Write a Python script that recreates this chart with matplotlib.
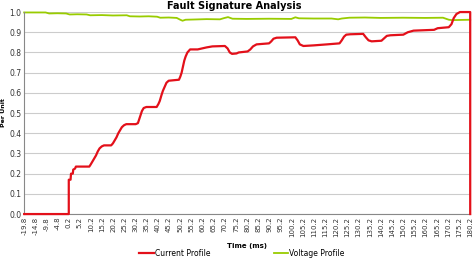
import numpy as np
import matplotlib
matplotlib.use("Agg")
import matplotlib.pyplot as plt

# Current profile (per unit)
current_t = [-19.8, 0.2, 0.2, 1.0, 1.2, 2.0, 2.2, 3.0, 3.4, 9.4, 10.0, 10.8, 11.6, 12.4,
             13.2, 14.0, 15.0, 16.0, 19.2, 20.0, 20.8, 21.6, 22.4, 23.2, 24.0, 25.0,
             26.0, 30.2, 31.2, 31.8, 32.4, 33.0, 33.8, 35.0, 39.6, 40.4, 41.0, 41.8,
             42.4, 43.2, 44.0, 45.0, 49.6, 50.2, 50.8, 51.4, 52.0, 52.6, 53.4, 54.6,
             58.0, 60.0, 62.0, 64.6, 70.2, 71.4, 72.4, 73.4, 75.4, 76.4, 80.4, 81.6,
             82.8, 84.4, 90.0, 91.0, 92.0, 93.4, 101.8, 102.8, 103.8, 105.4, 110.0,
             116.0, 121.6, 122.6, 123.6, 124.6, 126.4, 132.2, 133.4, 134.6, 136.0,
             140.4, 141.6, 142.8, 144.4, 150.2, 152.2, 154.8, 164.0, 165.6, 170.6,
             171.8, 172.8, 174.0, 175.6, 180.2, 180.2]
current_v = [0.0, 0.0, 0.17, 0.17, 0.20, 0.20, 0.22, 0.225, 0.235, 0.235, 0.245, 0.26,
             0.275, 0.29, 0.31, 0.325, 0.335, 0.34, 0.34, 0.35, 0.365, 0.38, 0.40,
             0.415, 0.43, 0.44, 0.445, 0.445, 0.45, 0.47, 0.49, 0.51, 0.525, 0.53,
             0.53, 0.545, 0.56, 0.59, 0.61, 0.63, 0.65, 0.66, 0.665, 0.68, 0.70, 0.73,
             0.76, 0.78, 0.80, 0.815, 0.815, 0.82, 0.825, 0.83, 0.832, 0.82, 0.80,
             0.793, 0.795, 0.80, 0.805, 0.815, 0.83, 0.84, 0.845, 0.855, 0.868, 0.873,
             0.875, 0.86, 0.84, 0.832, 0.835, 0.84, 0.845, 0.86, 0.878, 0.888, 0.89,
             0.892, 0.875, 0.86, 0.855, 0.858, 0.87, 0.882, 0.885, 0.888, 0.90, 0.908,
             0.912, 0.92, 0.925, 0.94, 0.97, 0.99, 1.0, 1.0, 0.0]

# Voltage profile (per unit)
voltage_t = [-19.8, -10.2, -8.6, -5.0, -1.0, 0.6, 4.0, 8.2, 9.8, 15.0, 20.0, 26.2,
             27.6, 32.0, 36.0, 39.8, 41.2, 45.0, 48.6, 50.0, 51.2, 52.6, 56.0, 62.0,
             68.0, 69.8, 71.6, 73.6, 80.0, 90.0, 100.0, 101.8, 103.4, 110.0, 118.0,
             121.0, 122.6, 126.0, 133.0, 140.0, 150.0, 160.0, 168.0, 170.6, 172.0, 180.2]
voltage_v = [0.998, 0.998, 0.993, 0.994, 0.993, 0.988, 0.989, 0.988, 0.984, 0.985,
             0.983, 0.984, 0.979, 0.978, 0.979, 0.977, 0.972, 0.973, 0.971, 0.963,
             0.957, 0.962, 0.963, 0.965, 0.964, 0.970, 0.975, 0.967, 0.966, 0.967,
             0.966, 0.974, 0.969, 0.968, 0.968, 0.964, 0.968, 0.972, 0.973, 0.971,
             0.972, 0.971, 0.972, 0.962, 0.960, 0.962]

x_ticks = np.arange(-19.8, 180.3, 5)
y_ticks = np.arange(0, 1.01, 0.1)

fig = plt.figure(figsize=(4.74, 2.62), dpi=100)
ax = fig.add_axes([0.051, 0.183, 0.941, 0.771])

ax.plot(current_t, current_v, color="#e3101a", lw=1.6, clip_on=False,
        label="Current Profile", zorder=3)
ax.plot(voltage_t, voltage_v, color="#99cc00", lw=1.3, clip_on=False,
        label="Voltage Profile", zorder=2)

ax.set_xlim(-19.8, 180.2)
ax.set_ylim(0, 1.0)
ax.set_xticks(x_ticks)
ax.set_xticklabels(["%.1f" % t for t in x_ticks], rotation=90, fontsize=5)
ax.set_yticks(y_ticks)
ax.set_yticklabels(["%.1f" % v for v in y_ticks], fontsize=5.5)
ax.tick_params(length=0, pad=2, colors="#333333")
ax.yaxis.grid(True, color="#cccccc", lw=0.8)
ax.set_axisbelow(True)
for s in ["top", "right"]:
    ax.spines[s].set_visible(False)
for s in ["left", "bottom"]:
    ax.spines[s].set_color("#888888")
    ax.spines[s].set_linewidth(0.8)

ax.set_title("Fault Signature Analysis", fontsize=7, fontweight="bold", pad=2, x=0.47)
ax.set_xlabel("Time (ms)", fontsize=5, fontweight="bold", labelpad=4)
ax.set_ylabel("Per Unit", fontsize=4.5, fontweight="bold", labelpad=2)

fig.legend(loc="lower center", bbox_to_anchor=(0.51, -0.01), ncol=2, frameon=False,
           fontsize=5.5, handlelength=1.9, columnspacing=8.3, handletextpad=0.1)

fig.savefig("out.png", dpi=100)
